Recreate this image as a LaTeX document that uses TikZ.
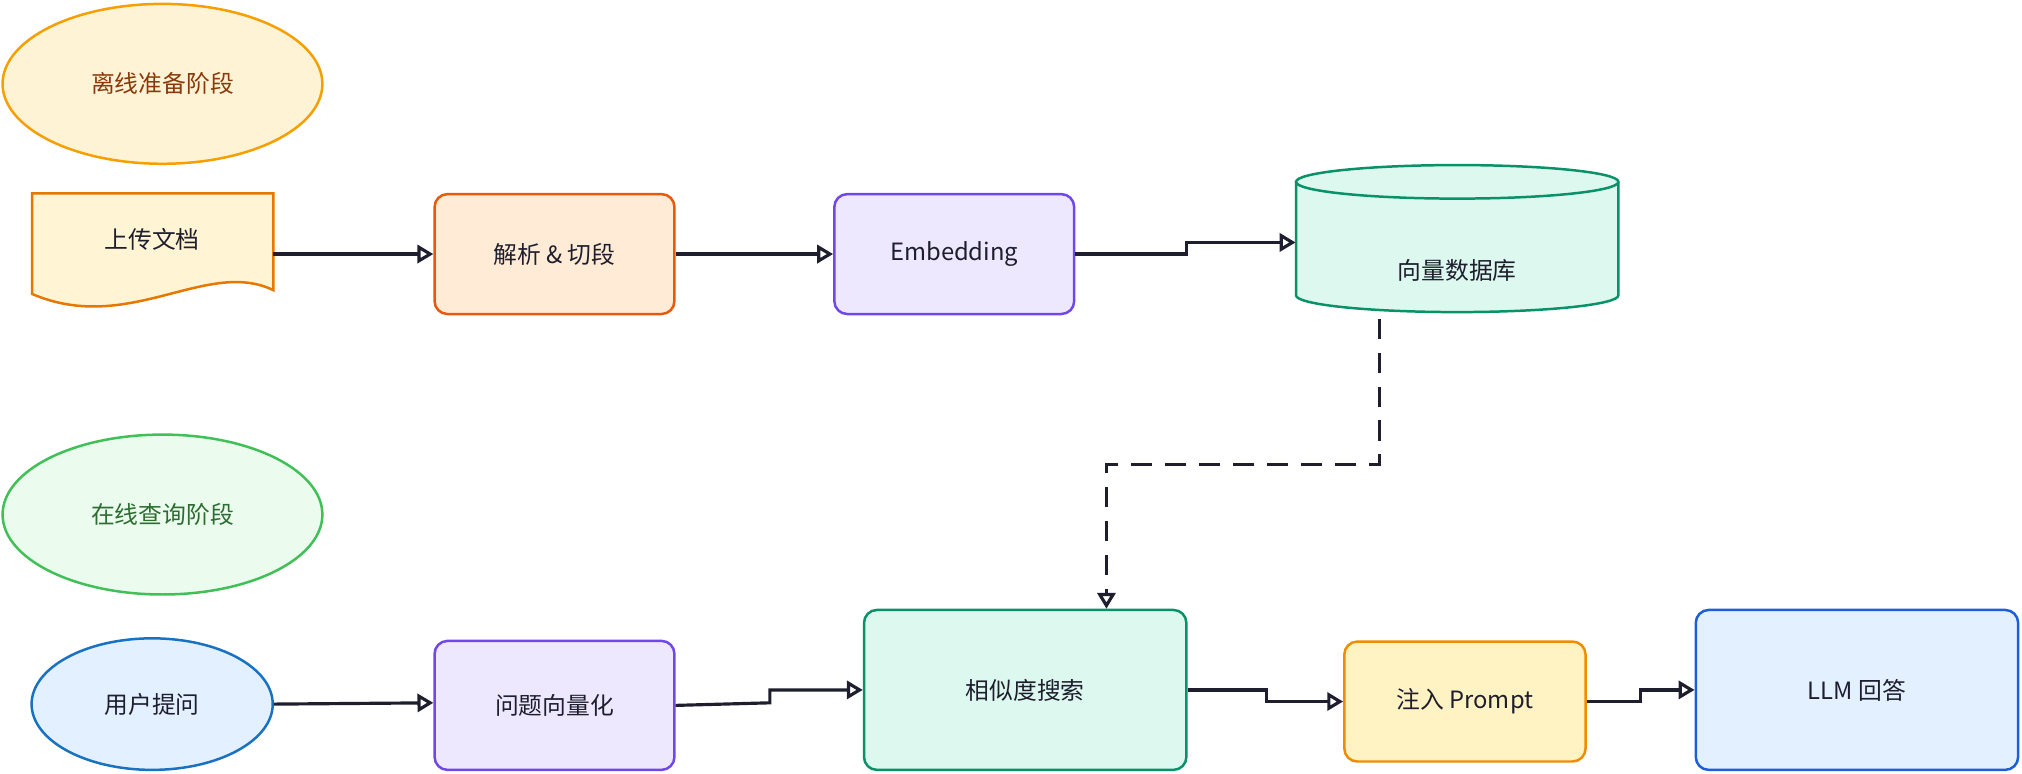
\documentclass[tikz,border=0pt]{standalone}
\usepackage{fontspec}
\setmainfont{Noto Sans CJK SC}
\usetikzlibrary{shapes.geometric,arrows.meta,calc}
\definecolor{orS}{HTML}{F59F00}\definecolor{orF}{HTML}{FFF3D6}
\definecolor{orT}{HTML}{8A3A0A}
\definecolor{grS}{HTML}{40C057}\definecolor{grF}{HTML}{EBFBEE}\definecolor{grT}{HTML}{2B6E2F}
\definecolor{dcS}{HTML}{E67700}\definecolor{dcF}{HTML}{FFF4D4}
\definecolor{rdS}{HTML}{E8590C}\definecolor{rdF}{HTML}{FFEBD6}
\definecolor{puS}{HTML}{7048E8}\definecolor{puF}{HTML}{EEE8FF}
\definecolor{tlS}{HTML}{099268}\definecolor{tlF}{HTML}{DDF8EE}
\definecolor{blS}{HTML}{1971C2}\definecolor{blF}{HTML}{E3F0FF}
\definecolor{bl2S}{HTML}{1C5FD6}\definecolor{bl2F}{HTML}{E3F0FF}
\definecolor{ygS}{HTML}{F08C00}\definecolor{ygF}{HTML}{FFF3C4}
\definecolor{ink}{HTML}{1E1E2E}
\begin{document}
\begin{tikzpicture}[x=0.02cm,y=-0.02cm,
  every node/.style={font=\fontsize{10.5}{12}\selectfont,text=ink},
  box/.style={draw=#1S,fill=#1F,line width=1.1pt,rounded corners=0.2cm,inner sep=0pt},
  ell/.style={ellipse,draw=#1S,fill=#1F,line width=1.1pt,inner sep=0pt},
  arr/.style={draw=ink,line width=1.4pt,-{Triangle[open,length=7pt,width=8pt]}}]
\useasboundingbox (0,0) rectangle (1568,600);
\node[ell=or,minimum width=248*0.02cm,minimum height=124*0.02cm,text=orT] (s1) at (126,65) {离线准备阶段};
\node[ell=gr,minimum width=248*0.02cm,minimum height=124*0.02cm,text=grT] (s2) at (126,399) {在线查询阶段};
% document shape
\node[minimum width=187*0.02cm,minimum height=90*0.02cm] (doc) at (118,193) {};
\fill[dcF] (25,150) -- (212,150) -- (212,225) .. controls (160,200) and (100,260) .. (25,228) -- cycle;
\draw[dcS,line width=1.1pt] (25,150) -- (212,150) -- (212,225) .. controls (160,200) and (100,260) .. (25,228) -- cycle;
\node at (118,186) {上传文档};
\node[box=rd,minimum width=186*0.02cm,minimum height=93*0.02cm] (parse) at (430,197) {解析 \& 切段};
\node[box=pu,minimum width=186*0.02cm,minimum height=93*0.02cm] (emb) at (740,197) {Embedding};
% cylinder
\node[minimum width=250*0.02cm,minimum height=116*0.02cm,inner sep=0pt] (db) at (1130,185) {};
\fill[tlF] (1005,141) -- (1005,229) arc[start angle=180,end angle=360,x radius=125,y radius=-13] -- (1255,141) arc[start angle=0,end angle=180,x radius=125,y radius=-13] -- cycle;
\draw[tlS,line width=1.1pt] (1005,141) -- (1005,229) arc[start angle=180,end angle=360,x radius=125,y radius=-13] -- (1255,141);
\draw[tlS,line width=1.1pt] (1130,141) ellipse[x radius=125,y radius=13];
\node at (1130,210) {向量数据库};
\node[ell=bl,minimum width=187*0.02cm,minimum height=102*0.02cm] (q) at (118,546) {用户提问};
\node[box=pu,minimum width=186*0.02cm,minimum height=100*0.02cm] (qv) at (430,547) {问题向量化};
\node[box=tl,minimum width=250*0.02cm,minimum height=124*0.02cm] (sim) at (795,535) {相似度搜索};
\node[box=yg,minimum width=187*0.02cm,minimum height=93*0.02cm] (inj) at (1136,544) {注入 Prompt};
\node[box=bl2,minimum width=250*0.02cm,minimum height=124*0.02cm] (llm) at (1440,535) {LLM 回答};
\path[arr] (doc.east|-0,197) -- (parse.west|-0,197);
\path[arr] (parse.east) -- (emb.west);
\path[arr] (emb.east) -- (920,197) -- (920,188) -- (db.west|-0,188);
\path[arr] (q.east) -- (qv.west|-0,545);
\path[arr] (qv.east) -- (597,545) -- (597,535) -- (sim.west|-0,535);
\path[arr] (sim.east|-0,535) -- (982,535) -- (982,544) -- (inj.west|-0,544);
\path[arr] (inj.east) -- (1272,544) -- (1272,535) -- (llm.west|-0,535);
\coordinate (c1) at (1070,360);\coordinate (c2) at (858,360);
\path[arr,dash pattern=on 9pt off 6pt] (1070,247) -- (c1) -- (c2) -- (sim.north-|c2);
\end{tikzpicture}
\end{document}
